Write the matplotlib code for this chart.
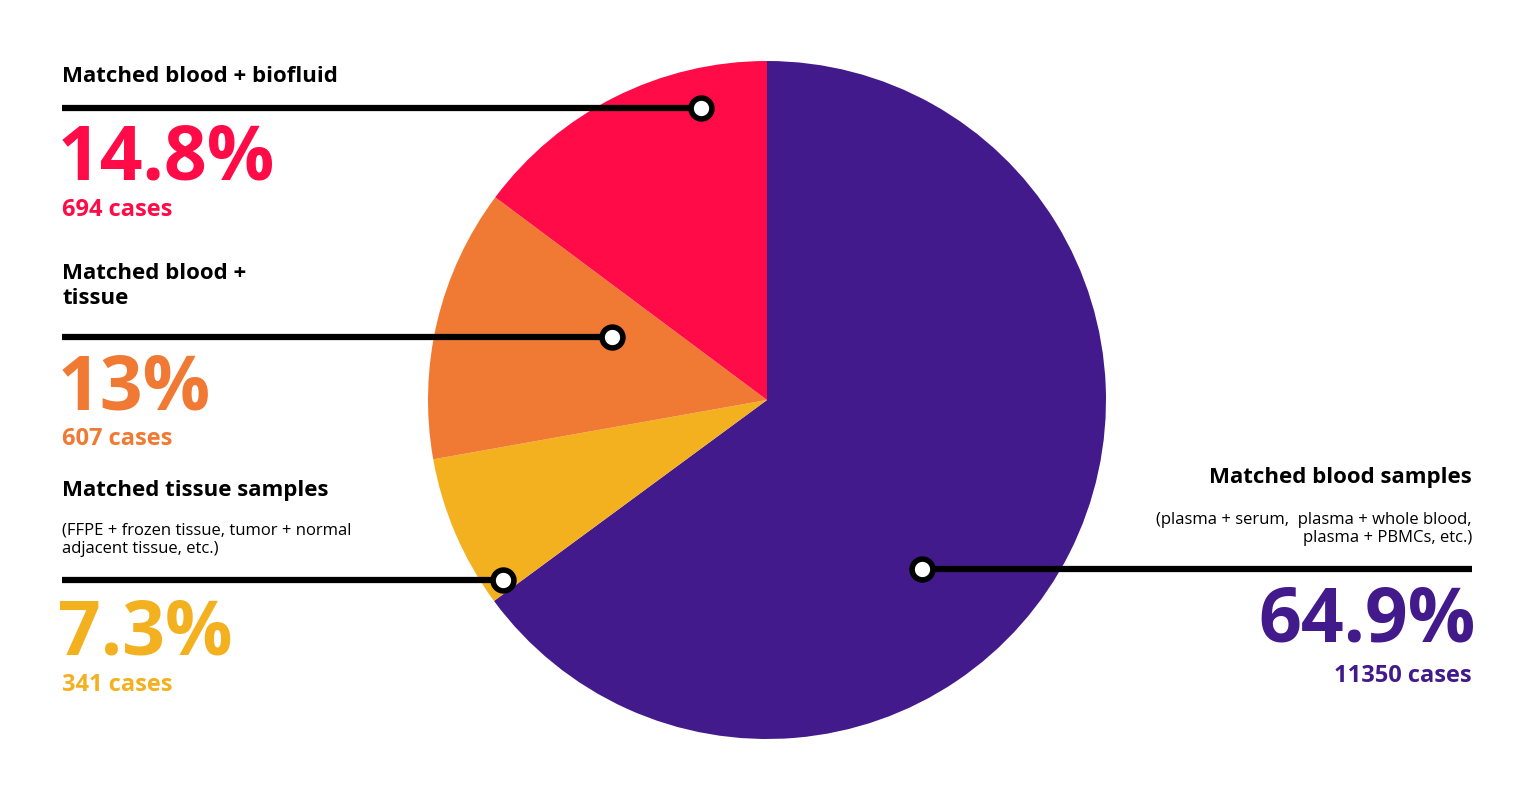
import matplotlib
matplotlib.use("Agg")
import matplotlib.pyplot as plt

labels = ["Matched blood samples", "Matched tissue samples", "Matched blood +\ntissue", "Matched blood + biofluid"]
pcts = [64.9, 7.3, 13.0, 14.8]
pct_labels = ["64.9%", "7.3%", "13%", "14.8%"]
cases = ["11350 cases", "341 cases", "607 cases", "694 cases"]
colors = ["#421a8b", "#f3b120", "#f07a33", "#ff0b47"]

H = 804
fig = plt.figure(figsize=(15.36, 8.04), dpi=100)
ax = fig.add_axes([0, 0, 1, 1])
ax.set_xlim(0, 1536); ax.set_ylim(0, H); ax.set_aspect("equal"); ax.axis("off")
ax.pie(pcts, colors=colors, startangle=90, counterclock=False, center=(767, H-401), radius=339,
       frame=True, wedgeprops=dict(linewidth=0))
ax.set_xlim(0, 1536); ax.set_ylim(0, H); ax.axis("off")

F = "Open Sans"
def Y(y): return H - y

# connector lines: (x0, x1, y, dotx)
lines = [(922, 1472, 570, 922), (62, 503, 581, 503), (62, 612, 338, 612), (62, 701, 109, 701)]
for (x0, x1, y, dx) in lines:
    ax.plot([x0, x1], [Y(y), Y(y)], color="black", lw=4.5, solid_capstyle="butt", zorder=3)
    ax.plot([dx], [Y(y)], "o", ms=15, mfc="white", mec="black", mew=4, zorder=4)

# left labels
ax.text(62, Y(76), labels[3], fontsize=16, fontweight="bold", family=F, va="center")
ax.text(58, Y(160), pct_labels[3], fontsize=54, fontweight="bold", family=F, va="center", color=colors[3])
ax.text(62, Y(210), cases[3], fontsize=17, fontweight="bold", family=F, va="center", color=colors[3])

ax.text(62, Y(286), labels[2], fontsize=16, fontweight="bold", family=F, va="center", linespacing=1.3)
ax.text(58, Y(390), pct_labels[2], fontsize=54, fontweight="bold", family=F, va="center", color=colors[2])
ax.text(62, Y(439), cases[2], fontsize=17, fontweight="bold", family=F, va="center", color=colors[2])

ax.text(62, Y(491), labels[1], fontsize=16, fontweight="bold", family=F, va="center")
ax.text(62, Y(540), "(FFPE + frozen tissue, tumor + normal\nadjacent tissue, etc.)", fontsize=12, family=F, va="center", linespacing=1.2)
ax.text(58, Y(635), pct_labels[1], fontsize=54, fontweight="bold", family=F, va="center", color=colors[1])
ax.text(62, Y(685), cases[1], fontsize=17, fontweight="bold", family=F, va="center", color=colors[1])

ax.text(1472, Y(478), labels[0], fontsize=16, fontweight="bold", family=F, va="center", ha="right")
ax.text(1472, Y(529), "(plasma + serum,  plasma + whole blood,\nplasma + PBMCs, etc.)", fontsize=12, family=F, va="center", ha="right", multialignment="right", linespacing=1.2)
ax.text(1476, Y(622), pct_labels[0], fontsize=54, fontweight="bold", family=F, va="center", ha="right", color=colors[0])
ax.text(1472, Y(676), cases[0], fontsize=17, fontweight="bold", family=F, va="center", ha="right", color=colors[0])

fig.savefig("out.png", dpi=100, facecolor="white")
